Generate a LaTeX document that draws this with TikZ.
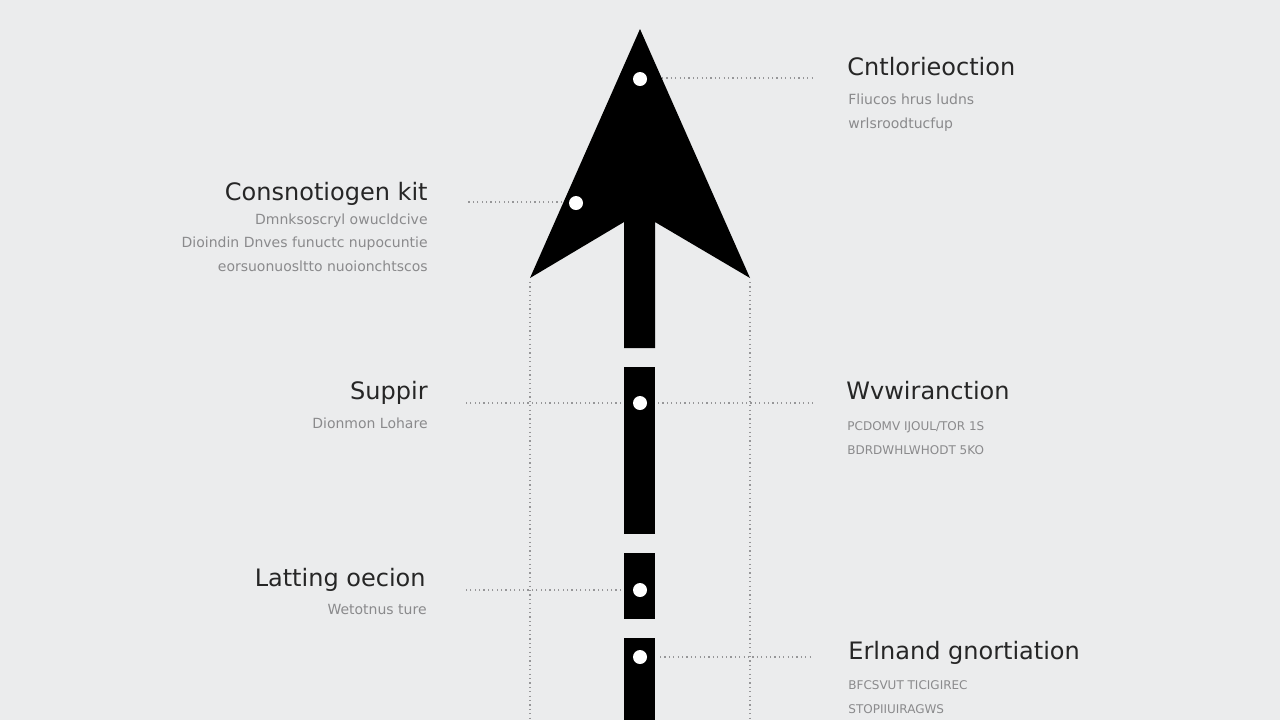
\documentclass[tikz,border=0pt]{standalone}
\usepackage{fontspec}
\setmainfont{DejaVu Sans}
\definecolor{bg}{RGB}{235,236,237}
\definecolor{ttl}{RGB}{38,38,38}
\definecolor{sub}{RGB}{138,138,140}
\definecolor{guide}{RGB}{150,150,152}
\begin{document}
\begin{tikzpicture}[x=0.5pt,y=-0.5pt,
  title/.style={inner sep=0pt,text=ttl,font=\fontsize{12}{14}\selectfont},
  subtxt/.style={inner sep=0pt,text=sub,font=\fontsize{7}{8}\selectfont},
  subcaps/.style={inner sep=0pt,text=sub,font=\fontsize{6}{7}\selectfont},
  guideline/.style={draw=guide,line width=0.6pt,dash pattern=on 0.6pt off 1.6pt},
  marker/.style={circle,fill=white,draw=none,minimum size=7pt,inner sep=0pt},
  bar/.style={fill=black,draw=none}]
\fill[bg] (0,0) rectangle (1280,720);
\useasboundingbox (0,0) rectangle (1280,720);

% vertical guides
\coordinate (vlt) at (530,282); \coordinate (vlb) at (530,720);
\coordinate (vrt) at (750,282); \coordinate (vrb) at (750,720);
\draw[guideline] (vlt) -- (vlb);
\draw[guideline] (vrt) -- (vrb);

% arrow head with first shaft piece
\fill[bar] (640,29) -- (750,278) -- (655,222) -- (655,348) -- (624,348) -- (624,222) -- (530,278) -- cycle;
% shaft segments
\fill[bar] (624,367) rectangle (655,534);
\fill[bar] (624,553) rectangle (655,619);
\fill[bar] (624,638) rectangle (655,720);

% markers
\node[marker] (m1) at (640,79) {};
\node[marker] (m2) at (576,203) {};
\node[marker] (m3) at (640,403) {};
\node[marker] (m4) at (640,590) {};
\node[marker] (m5) at (640,657) {};

% labels
\node[title,anchor=base west] (t1) at (847,75) {Cntlorieoction};
\node[subtxt,anchor=base west] (s1a) at (848,104) {Fliucos hrus ludns};
\node[subtxt,anchor=base west] (s1b) at (848,128) {wrlsroodtucfup};

\node[title,anchor=base east] (t2) at (428,200) {Consnotiogen kit};
\node[subtxt,anchor=base east] (s2a) at (428,224) {Dmnksoscryl owucldcive};
\node[subtxt,anchor=base east] (s2b) at (428,247) {Dioindin Dnves funuctc nupocuntie};
\node[subtxt,anchor=base east] (s2c) at (428,271) {eorsuonuosltto nuoionchtscos};

\node[title,anchor=base east] (t3) at (428,399) {Suppir};
\node[subtxt,anchor=base east] (s3a) at (428,428) {Dionmon Lohare};

\node[title,anchor=base west] (t4) at (846,399) {Wvwiranction};
\node[subcaps,anchor=base west] (s4a) at (847,430) {PCDOMV IJOUL/TOR 1S};
\node[subcaps,anchor=base west] (s4b) at (847,454) {BDRDWHLWHODT 5KO};

\node[title,anchor=base east] (t5) at (426,586) {Latting oecion};
\node[subtxt,anchor=base east] (s5a) at (427,614) {Wetotnus ture};

\node[title,anchor=base west] (t6) at (848,659) {Erlnand gnortiation};
\node[subcaps,anchor=base west] (s6a) at (848,689) {BFCSVUT TICIGIREC};
\node[subcaps,anchor=base west] (s6b) at (848,713) {STOPIIUIRAGWS};

% leader lines
\coordinate (a1) at (662,78);  \coordinate (b1) at (815,78);
\coordinate (a2) at (562,202); \coordinate (b2) at (467,202);
\coordinate (a3l) at (621,403); \coordinate (b3l) at (463,403);
\coordinate (a3r) at (658,403); \coordinate (b3r) at (815,403);
\coordinate (a4) at (621,590); \coordinate (b4) at (463,590);
\coordinate (a5) at (660,657); \coordinate (b5) at (812,657);
\draw[guideline] (a1) -- (b1);
\draw[guideline] (a2) -- (b2);
\draw[guideline] (a3l) -- (b3l);
\draw[guideline] (a3r) -- (b3r);
\draw[guideline] (a4) -- (b4);
\draw[guideline] (a5) -- (b5);
\end{tikzpicture}
\end{document}
